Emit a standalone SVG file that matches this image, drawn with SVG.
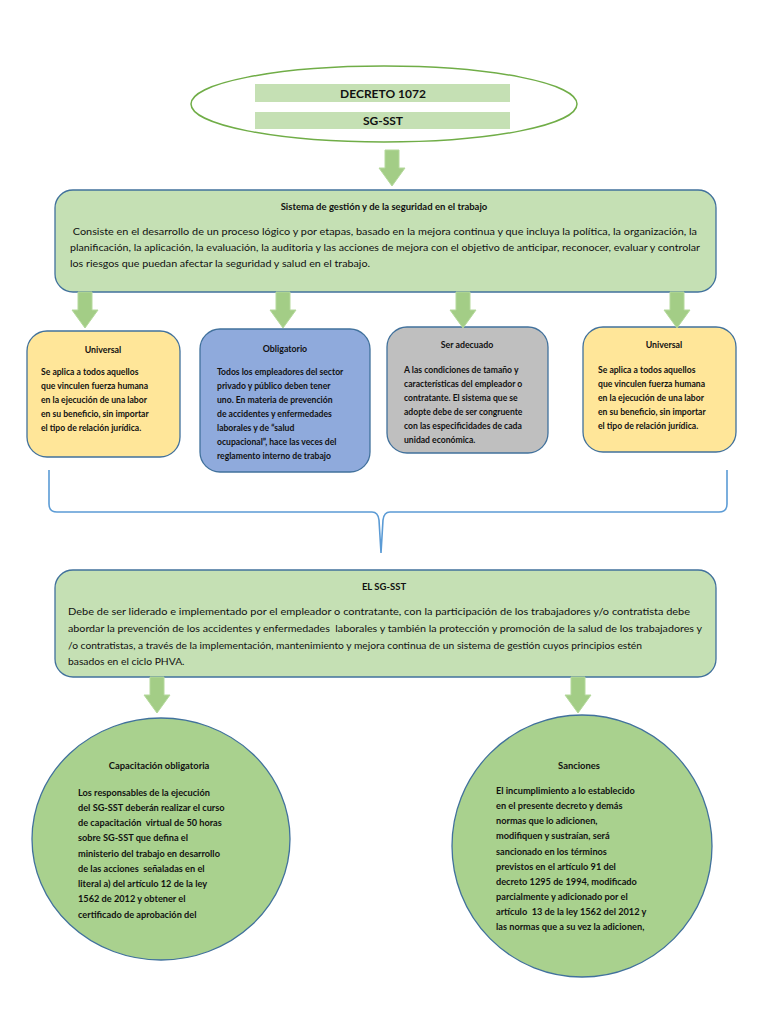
<svg xmlns="http://www.w3.org/2000/svg" xmlns:xlink="http://www.w3.org/1999/xlink" width="768" height="1024" viewBox="0 0 768 1024">
<style>
text{font-family:Lato,"Open Sans","Liberation Sans",sans-serif;fill:#111;}
.t{font-weight:bold;text-anchor:middle;font-size:9.5px;}
.b{font-size:10.3px;}
.s{font-size:8.6px;font-weight:bold;}
.c{font-size:9.2px;font-weight:bold;}
.pre{white-space:pre;}
.box{stroke:#41719c;stroke-width:1.3;}
.arrow{fill:#a3cd86;stroke:#b5d99c;stroke-width:1;}
</style>
<defs>
<path id="arr" d="M-7,0 H7 V18 H13 L0,36 L-13,18 H-7 Z"/>
</defs>
<rect width="768" height="1024" fill="#ffffff"/>

<g id="header">
<ellipse cx="384" cy="104" rx="193" ry="38" fill="#ffffff" stroke="#70ad47" stroke-width="1.5"/>
<rect x="255" y="84" width="255" height="18" fill="#c5e0b4"/>
<rect x="255" y="112" width="255" height="17" fill="#c5e0b4"/>
<text x="383" y="97.5" class="t" style="font-size:12px">DECRETO 1072</text>
<text x="383" y="125" class="t" style="font-size:12px">SG-SST</text>
</g>

<g id="sistema">
<rect x="55" y="190" width="661" height="102" rx="18" fill="#c5e0b4" class="box"/>
<text x="384" y="210" class="t">Sistema de gestión y de la seguridad en el trabajo</text>
<text x="70" y="235" class="b pre" textLength="627" lengthAdjust="spacingAndGlyphs"> Consiste en el desarrollo de un proceso lógico y por etapas, basado en la mejora continua y que incluya la política, la organización, la</text>
<text x="70" y="251" class="b" textLength="630" lengthAdjust="spacingAndGlyphs">planificación, la aplicación, la evaluación, la auditoria y las acciones de mejora con el objetivo de anticipar, reconocer, evaluar y controlar</text>
<text x="70" y="267" class="b" textLength="300" lengthAdjust="spacingAndGlyphs">los riesgos que puedan afectar la seguridad y salud en el trabajo.</text>
</g>

<g id="universal1">
<rect x="27" y="331" width="153" height="126" rx="20" fill="#ffe699" class="box"/>
<text x="103" y="353" class="t" style="font-size:8.8px">Universal</text>
<text x="41" y="375" class="s">Se aplica a todos aquellos</text>
<text x="41" y="389" class="s">que vinculen fuerza humana</text>
<text x="41" y="403" class="s">en la ejecución de una labor</text>
<text x="41" y="417" class="s">en su beneficio, sin importar</text>
<text x="41" y="431" class="s">el tipo de relación jurídica.</text>
</g>

<g id="obligatorio">
<rect x="200" y="329" width="170" height="143" rx="20" fill="#8faadc" class="box"/>
<text x="285" y="352" class="t" style="font-size:8.8px">Obligatorio</text>
<text x="217" y="375" class="s">Todos los empleadores del sector</text>
<text x="217" y="389" class="s">privado y público deben tener</text>
<text x="217" y="403" class="s">uno. En materia de prevención</text>
<text x="217" y="417" class="s">de accidentes y enfermedades</text>
<text x="217" y="431" class="s">laborales y de “salud</text>
<text x="217" y="445" class="s">ocupacional”, hace las veces del</text>
<text x="217" y="459" class="s">reglamento interno de trabajo</text>
</g>

<g id="adecuado">
<rect x="387" y="327" width="161" height="126" rx="20" fill="#bfbfbf" class="box"/>
<text x="467" y="348" class="t" style="font-size:8.8px">Ser adecuado</text>
<text x="404" y="373" class="s">A las condiciones de tamaño y</text>
<text x="404" y="387" class="s">características del empleador o</text>
<text x="404" y="401" class="s">contratante. El sistema que se</text>
<text x="404" y="415" class="s">adopte debe de ser congruente</text>
<text x="404" y="429" class="s">con las especificidades de cada</text>
<text x="404" y="443" class="s">unidad económica.</text>
</g>

<g id="universal2">
<rect x="583" y="327" width="153" height="125" rx="20" fill="#ffe699" class="box"/>
<text x="664" y="348" class="t" style="font-size:8.8px">Universal</text>
<text x="598" y="373" class="s">Se aplica a todos aquellos</text>
<text x="598" y="387" class="s">que vinculen fuerza humana</text>
<text x="598" y="401" class="s">en la ejecución de una labor</text>
<text x="598" y="415" class="s">en su beneficio, sin importar</text>
<text x="598" y="429" class="s">el tipo de relación jurídica.</text>
</g>

<g id="elsgsst">
<rect x="55" y="570" width="661" height="107" rx="18" fill="#c5e0b4" class="box"/>
<text x="384" y="590" class="t">EL SG-SST</text>
<text x="68" y="615" class="b" textLength="622" lengthAdjust="spacingAndGlyphs">Debe de ser liderado e implementado por el empleador o contratante, con la participación de los trabajadores y/o contratista debe</text>
<text x="68" y="632" class="b pre" textLength="634" lengthAdjust="spacingAndGlyphs">abordar la prevención de los accidentes y enfermedades  laborales y también la protección y promoción de la salud de los trabajadores y</text>
<text x="68" y="649" class="b" textLength="574" lengthAdjust="spacingAndGlyphs">/o contratistas, a través de la implementación, mantenimiento y mejora continua de un sistema de gestión cuyos principios estén</text>
<text x="68" y="665" class="b">basados en el ciclo PHVA.</text>
</g>

<g id="capacitacion">
<ellipse cx="161" cy="839" rx="129" ry="121" fill="#a9d18e" stroke="#41719c" stroke-width="1.3"/>
<text x="159" y="769" class="t" style="font-size:9.4px">Capacitación obligatoria</text>
<text x="78" y="796" class="c">Los responsables de la ejecución</text>
<text x="78" y="811" class="c">del SG-SST deberán realizar el curso</text>
<text x="78" y="826" class="c pre">de capacitación  virtual de 50 horas</text>
<text x="78" y="841" class="c">sobre SG-SST que defina el</text>
<text x="78" y="857" class="c">ministerio del trabajo en desarrollo</text>
<text x="78" y="872" class="c pre">de las acciones  señaladas en el</text>
<text x="78" y="887" class="c">literal a) del artículo 12 de la ley</text>
<text x="78" y="902" class="c">1562 de 2012 y obtener el</text>
<text x="78" y="918" class="c">certificado de aprobación del</text>
</g>

<g id="sanciones">
<ellipse cx="582" cy="846" rx="130" ry="131" fill="#a9d18e" stroke="#41719c" stroke-width="1.3"/>
<text x="579" y="769" class="t" style="font-size:9.4px">Sanciones</text>
<text x="496" y="794" class="c">El incumplimiento a lo establecido</text>
<text x="496" y="809" class="c">en el presente decreto y demás</text>
<text x="496" y="824" class="c">normas que lo adicionen,</text>
<text x="496" y="839" class="c">modifiquen y sustraían, será</text>
<text x="496" y="855" class="c">sancionado en los términos</text>
<text x="496" y="870" class="c">previstos en el artículo 91 del</text>
<text x="496" y="885" class="c">decreto 1295 de 1994, modificado</text>
<text x="496" y="900" class="c">parcialmente y adicionado por el</text>
<text x="496" y="915" class="c pre">artículo  13 de la ley 1562 del 2012 y</text>
<text x="496" y="930" class="c">las normas que a su vez la adicionen,</text>
</g>

<g id="connectors">
<use xlink:href="#arr" href="#arr" class="arrow" transform="translate(392,150)"/>
<use xlink:href="#arr" href="#arr" class="arrow" transform="translate(85,292)"/>
<use xlink:href="#arr" href="#arr" class="arrow" transform="translate(283,292)"/>
<use xlink:href="#arr" href="#arr" class="arrow" transform="translate(463,292)"/>
<use xlink:href="#arr" href="#arr" class="arrow" transform="translate(677,292)"/>
<use xlink:href="#arr" href="#arr" class="arrow" transform="translate(157,677)"/>
<use xlink:href="#arr" href="#arr" class="arrow" transform="translate(578,677)"/>
<path d="M49,470 V504 Q49,512 57,512 H372 Q378,512 379,520 L381,553 L383,520 Q384,512 390,512 H719 Q727,512 727,504 V470" fill="none" stroke="#5b9bd5" stroke-width="1.6"/>
</g>
</svg>
